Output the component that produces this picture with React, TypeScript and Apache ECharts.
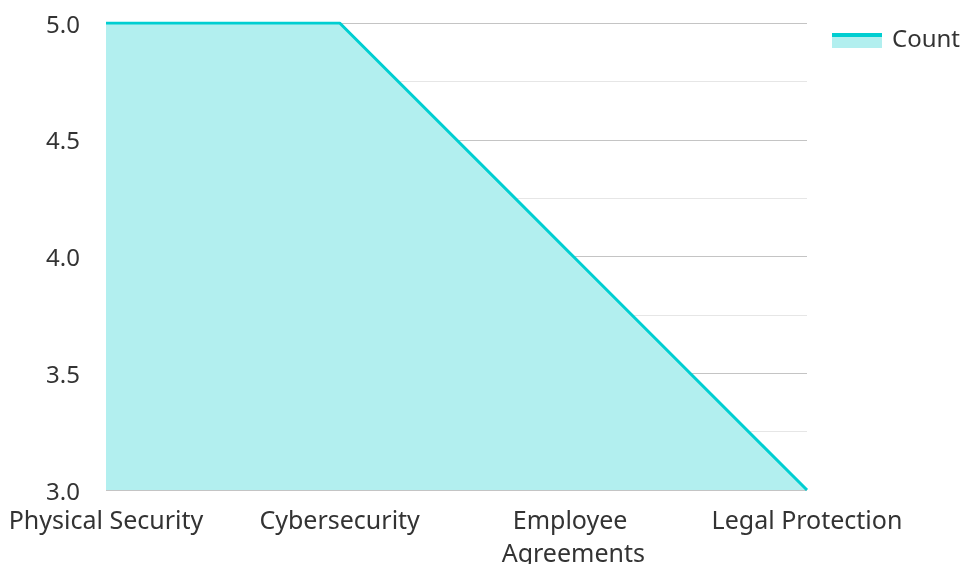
import React, { useEffect, useRef } from "react";
import * as echarts from "echarts";

const categories = ["Physical Security", "Cybersecurity", "Employee Agreements", "Legal Protection"];
const countValues = [5, 5, 4, 3];
const seriesName = "Count";

export default function App() {
  const ref = useRef<HTMLDivElement>(null);
  useEffect(() => {
    const chart = echarts.init(ref.current!, null, { renderer: "svg" });
    const font = "'Noto Sans', 'Open Sans', sans-serif";
    chart.setOption({
      animation: false,
      textStyle: { fontFamily: font },
      grid: {
        left: 106,
        right: 158,
        top: 23,
        bottom: 74,
        containLabel: false,
        outerBoundsMode: "none",
      },
      legend: { show: false },
      graphic: [
        {
          type: "rect",
          shape: { x: 832, y: 35, width: 50, height: 13 },
          style: { fill: "#B2EFEF" },
        },
        {
          type: "line",
          shape: { x1: 832, y1: 35, x2: 882, y2: 35 },
          style: { stroke: "#00CED1", lineWidth: 4 },
        },
        {
          type: "text",
          x: 892,
          y: 37,
          style: {
            text: seriesName,
            fontSize: 24,
            fill: "#333",
            fontFamily: font,
            verticalAlign: "middle",
            align: "left",
          },
        },
      ],
      xAxis: {
        type: "category",
        data: categories,
        boundaryGap: false,
        axisLine: { show: false },
        axisTick: { show: false },
        axisLabel: {
          fontSize: 25,
          color: "#333",
          margin: 12,
          width: 215,
          overflow: "break",
          interval: 0,
          lineHeight: 33,
          fontFamily: font,
        },
      },
      yAxis: {
        type: "value",
        min: 3,
        max: 5,
        interval: 0.5,
        axisLine: { show: false },
        axisTick: { show: false },
        axisLabel: {
          fontSize: 24,
          color: "#333",
          margin: 26,
          formatter: (v: number) => v.toFixed(1),
          fontFamily: font,
        },
        splitLine: { show: true, lineStyle: { color: "#c4c4c4", width: 1 } },
        minorTick: { show: false, splitNumber: 2 },
        minorSplitLine: { show: true, lineStyle: { color: "#e6e6e6", width: 1 } },
      },
      series: [
        {
          name: seriesName,
          type: "line",
          data: countValues,
          symbol: "none",
          lineStyle: { color: "#00CED1", width: 3 },
          itemStyle: { color: "#00CED1" },
          areaStyle: { color: "#B2EFEF", opacity: 1 },
        },
      ],
    });
    return () => chart.dispose();
  }, []);
  return (
    <div
      ref={ref}
      style={{ width: 965, height: 564, position: "fixed", left: 0, top: 0 }}
    />
  );
}
